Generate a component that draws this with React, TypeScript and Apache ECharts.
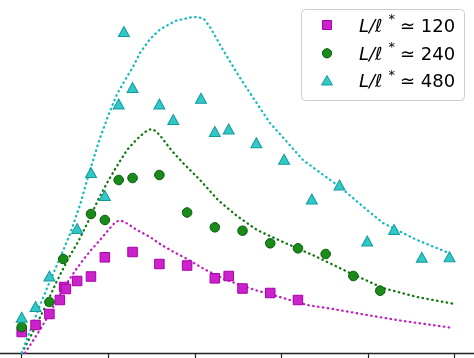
import React, { useEffect, useRef } from "react";
import * as echarts from "echarts";

// x ticks (axis units)
const xTicks = [0, 1, 2, 3, 4, 5];

// L/l* ~ 120 (squares)
const sqX = [0, 0.16, 0.32, 0.44, 0.49, 0.51, 0.64, 0.8, 0.96, 1.28, 1.59, 1.91, 2.23, 2.39, 2.55, 2.87, 3.19];
const sqY = [0.21, 0.28, 0.39, 0.53, 0.66, 0.64, 0.72, 0.765, 0.957, 1.01, 0.89, 0.875, 0.747, 0.77, 0.645, 0.6, 0.53];

// L/l* ~ 240 (circles)
const ciX = [0, 0.32, 0.48, 0.8, 0.96, 1.12, 1.28, 1.59, 1.91, 2.23, 2.55, 2.87, 3.19, 3.51, 3.83, 4.14];
const ciY = [0.26, 0.51, 0.94, 1.39, 1.33, 1.73, 1.75, 1.78, 1.405, 1.257, 1.223, 1.097, 1.047, 0.99, 0.77, 0.623];

// L/l* ~ 480 (triangles)
const trX = [0, 0.16, 0.32, 0.64, 0.8, 0.96, 1.12, 1.18, 1.28, 1.59, 1.75, 2.07, 2.23, 2.39, 2.71, 3.03, 3.35, 3.67, 3.99, 4.3, 4.62, 4.94];
const trY = [0.357, 0.465, 0.77, 1.245, 1.805, 1.575, 2.49, 3.215, 2.655, 2.49, 2.335, 2.547, 2.215, 2.24, 2.103, 1.937, 1.54, 1.68, 1.12, 1.235, 0.957, 0.963];

// model curves
const mCurveX = [0.038, 0.188, 0.327, 0.419, 0.523, 0.615, 0.708, 0.812, 0.904, 1.02, 1.077, 1.124, 1.181, 1.332, 1.482, 1.597, 1.747, 1.909, 2.128, 2.313, 2.521, 2.717, 2.902, 3.098, 3.295, 3.595, 3.988, 4.368, 4.946];
const mCurveY = [0, 0.2, 0.4, 0.55, 0.7, 0.82, 0.93, 1.04, 1.13, 1.25, 1.305, 1.325, 1.315, 1.23, 1.16, 1.09, 1.015, 0.94, 0.83, 0.75, 0.68, 0.625, 0.58, 0.53, 0.48, 0.44, 0.38, 0.325, 0.255];

const gCurveX = [0.003, 0.134, 0.27, 0.396, 0.535, 0.65, 0.765, 0.881, 0.985, 1.1, 1.216, 1.332, 1.424, 1.493, 1.551, 1.62, 1.736, 1.863, 2.059, 2.267, 2.486, 2.717, 3.017, 3.214, 3.41, 3.791, 4.172, 4.565, 4.969];
const gCurveY = [0, 0.22, 0.46, 0.7, 0.94, 1.11, 1.31, 1.53, 1.7, 1.87, 2.03, 2.14, 2.21, 2.24, 2.22, 2.15, 2.02, 1.9, 1.73, 1.53, 1.37, 1.23, 1.11, 1.035, 0.96, 0.8, 0.65, 0.56, 0.495];

const cCurveX = [0, 0.096, 0.212, 0.327, 0.442, 0.558, 0.673, 0.789, 0.904, 1.02, 1.101, 1.193, 1.285, 1.366, 1.482, 1.597, 1.771, 1.943, 2.036, 2.105, 2.174, 2.325, 2.486, 2.636, 2.867, 3.064, 3.248, 3.468, 3.676, 3.988, 4.172, 4.565, 4.946];
const cCurveY = [0, 0.22, 0.48, 0.72, 0.95, 1.19, 1.48, 1.83, 2.15, 2.42, 2.59, 2.73, 2.86, 3.0, 3.14, 3.235, 3.32, 3.355, 3.36, 3.34, 3.26, 3.03, 2.8, 2.6, 2.3, 2.11, 1.93, 1.79, 1.66, 1.43, 1.3, 1.13, 0.995];

const legendLabels = ["120", "240", "480"];

const MAG = "#cc22cc";
const GRN = "#1a8a1a";
const CYN = "#33c8c8";

const pairs = (xs: number[], ys: number[]) => xs.map((x, i) => [x, ys[i]]);

export default function App() {
  const ref = useRef<HTMLDivElement>(null);
  useEffect(() => {
    const chart = echarts.init(ref.current!, null, { renderer: "svg" });
    const dotted = (color: string) => ({ color, width: 2.3, type: [0.5, 4.4], cap: "round" });
    const rowY = [25, 53.3, 80.5];
    const font = "DejaVu Sans";
    const legendEls: any[] = [
      {
        type: "rect",
        shape: { x: 301.5, y: 9.5, width: 163, height: 91, r: 4 },
        style: { fill: "rgba(255,255,255,0.85)", stroke: "#cccccc", lineWidth: 1 },
        z: 100,
      },
      {
        type: "rect",
        shape: { x: 322.5, y: rowY[0] - 4.5, width: 9, height: 9 },
        style: { fill: MAG, stroke: "#a800a8", lineWidth: 1 },
        z: 101,
      },
      {
        type: "circle",
        shape: { cx: 327, cy: rowY[1], r: 4.6 },
        style: { fill: GRN, stroke: "#005800", lineWidth: 1 },
        z: 101,
      },
      {
        type: "polygon",
        shape: { points: [[327, rowY[2] - 5], [332.5, rowY[2] + 4.5], [321.5, rowY[2] + 4.5]] },
        style: { fill: CYN, stroke: "#129c9c", lineWidth: 1 },
        z: 101,
      },
    ];
    legendLabels.forEach((lab, i) => {
      const y = rowY[i];
      legendEls.push(
        {
          type: "text",
          x: 359,
          y,
          style: { text: "L/ℓ", fontFamily: font, fontStyle: "italic", fontSize: 18, fill: "#000", verticalAlign: "middle", align: "left" },
          z: 101,
        },
        {
          type: "text",
          x: 388.5,
          y: y - 6.5,
          style: { text: "*", fontFamily: font, fontSize: 13, fill: "#000", verticalAlign: "middle", align: "left" },
          z: 101,
        },
        {
          type: "text",
          x: 400,
          y,
          style: { text: "≃ " + lab, fontFamily: font, fontSize: 18, fill: "#000", verticalAlign: "middle", align: "left" },
          z: 101,
        }
      );
    });

    chart.setOption({
      animation: false,
      grid: { left: 0, right: 0, top: 0, bottom: 5, containLabel: false },
      xAxis: {
        type: "value",
        min: -0.2506,
        max: 5.2229,
        axisLine: { show: true, onZero: false, lineStyle: { color: "#222", width: 1.3 } },
        axisTick: { show: true, customValues: xTicks, length: 5, inside: false, lineStyle: { color: "#222", width: 1.2 } },
        axisLabel: { show: false },
        splitLine: { show: false },
      },
      yAxis: { type: "value", min: 0, max: 3.53, show: false, splitLine: { show: false } },
      series: [
        { type: "line", data: pairs(mCurveX, mCurveY), showSymbol: false, lineStyle: dotted("#c020c0"), z: 1, silent: true },
        { type: "line", data: pairs(gCurveX, gCurveY), showSymbol: false, lineStyle: dotted("#0f7a0f"), z: 1, silent: true },
        { type: "line", data: pairs(cCurveX, cCurveY), showSymbol: false, lineStyle: dotted("#12bcbc"), z: 1, silent: true },
        {
          type: "scatter", name: "L/ℓ* ≃ 120", data: pairs(sqX, sqY), symbol: "rect", symbolSize: 9.5,
          itemStyle: { color: MAG, borderColor: "#a800a8", borderWidth: 1, opacity: 1 }, z: 3,
        },
        {
          type: "scatter", name: "L/ℓ* ≃ 240", data: pairs(ciX, ciY), symbol: "circle", symbolSize: 9.5,
          itemStyle: { color: GRN, borderColor: "#005800", borderWidth: 1, opacity: 1 }, z: 4,
        },
        {
          type: "scatter", name: "L/ℓ* ≃ 480", data: pairs(trX, trY), symbol: "triangle", symbolSize: [11, 10],
          itemStyle: { color: CYN, borderColor: "#129c9c", borderWidth: 1, opacity: 1 }, z: 5,
        },
      ],
      graphic: legendEls,
    });
    return () => chart.dispose();
  }, []);
  return <div ref={ref} style={{ position: "fixed", left: 0, top: 0, width: 474, height: 358 }} />;
}
